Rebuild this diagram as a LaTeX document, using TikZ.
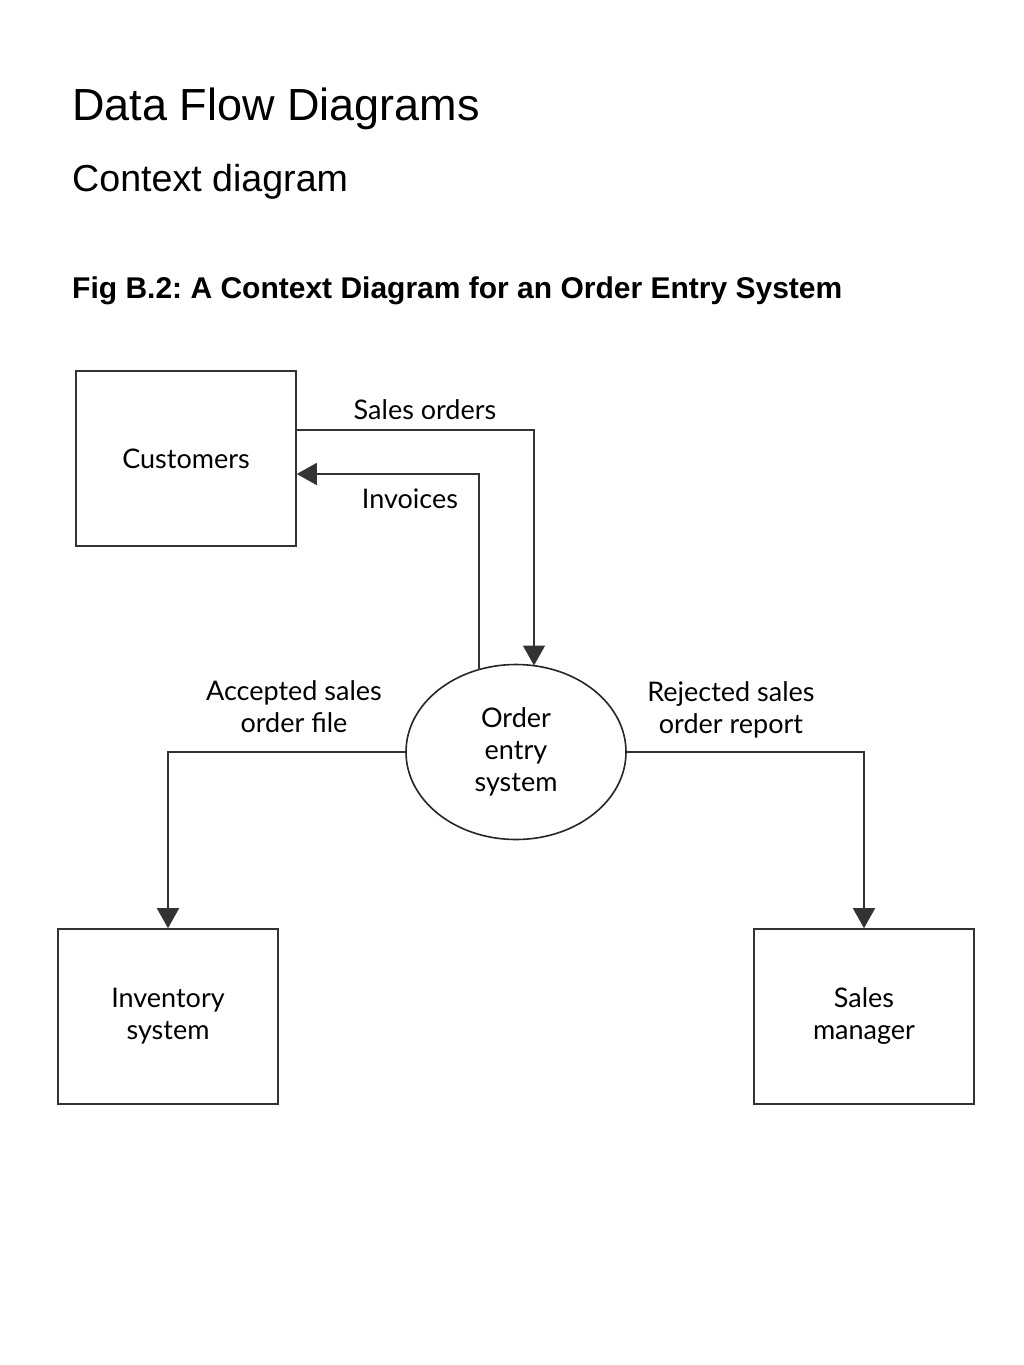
\documentclass[tikz,border=0pt]{standalone}
\usepackage{fontspec}
\setmainfont{Liberation Sans}
\newfontfamily\gillfont{Lato}
\usetikzlibrary{arrows.meta,shapes.geometric}
\newcommand\lblfont{\gillfont\fontsize{27}{32}\selectfont}
\frenchspacing
\begin{document}
\begin{tikzpicture}[x=1pt,y=-1pt,
  box/.style={draw=black!80, line width=1.6pt, minimum width=220pt, minimum height=175pt, inner sep=0pt, font=\lblfont, align=center},
  proc/.style={ellipse, draw=black!85, line width=1.6pt, minimum width=220pt, minimum height=175pt, inner sep=0pt, font=\lblfont, align=center},
  flow/.style={line width=1.6pt, draw=black!80, -{Triangle[width=22pt,length=20pt]}},
  lbl/.style={font=\lblfont, align=center, inner sep=0pt},
  title/.style={anchor=base west, inner sep=0pt}
]
\fill[white] (0,0) rectangle (1024,1365);
\useasboundingbox (0,0) rectangle (1024,1365);

\node[title, font=\fontsize{45}{54}\selectfont] (t1) at (72,120) {Data Flow Diagrams};
\node[title, font=\fontsize{37.6}{45}\selectfont] (t2) at (72,191) {Context diagram};
\node[title, font=\bfseries\fontsize{30}{36}\selectfont] (t3) at (72,298) {Fig B.2: A Context Diagram for an Order Entry System};

\node[box] (cust) at (186,458.5) {Customers};
\node[proc] (oes) at (516,752) {Order\\entry\\system};
\node[box] (inv) at (168,1016.5) {Inventory\\system};
\node[box] (mgr) at (864,1016.5) {Sales\\manager};

\coordinate (soEnd) at (534,665.5);
\coordinate (invStart) at (479,669.5);

\draw[flow] ([yshift=28.5pt]cust.east) -| (soEnd);
\draw[flow] (invStart) |- ([yshift=-15.5pt]cust.east);
\draw[flow] (oes.west) -| (inv.north);
\draw[flow] (oes.east) -| (mgr.north);

\node[lbl] (lso) at (425,410) {Sales orders};
\node[lbl] (linv) at (410,499) {Invoices};
\node[lbl] (lacc) at (294,707) {Accepted sales\\order file};
\node[lbl] (lrej) at (731,710) {Rejected sales\\order report};
\end{tikzpicture}
\end{document}
